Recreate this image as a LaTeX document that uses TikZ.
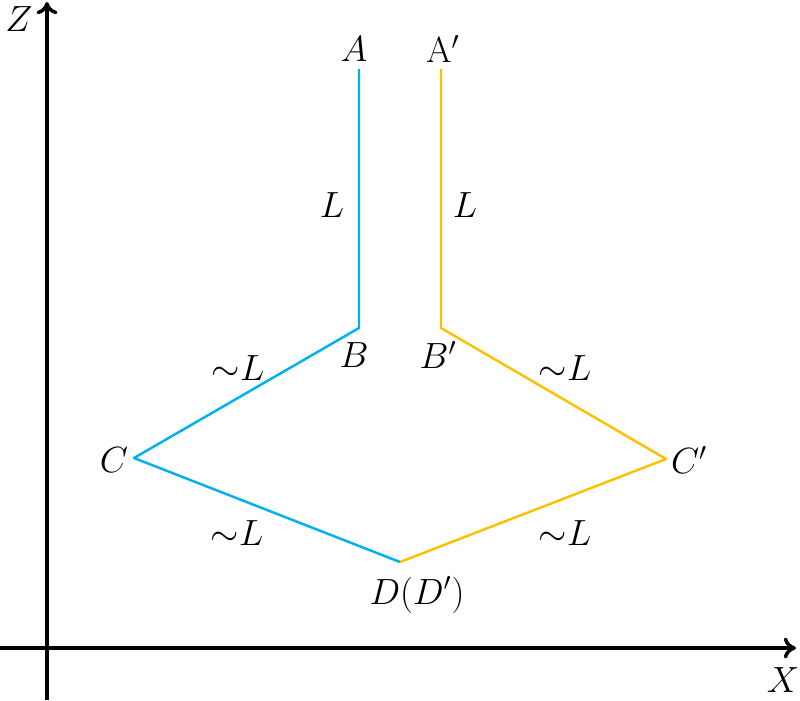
\documentclass[tikz,border=0pt]{standalone}
\usepackage{amsmath}
\usepackage{tikz}
\usepackage{xcolor}
\usetikzlibrary{arrows.meta, calc}

\definecolor{pathblue}{HTML}{00B0F0}
\definecolor{pathgold}{HTML}{FFC000}

\begin{document}
\begin{tikzpicture}[x=0.02cm, y=-0.02cm,
    axis/.style={line width=2.3pt, -{To[length=7pt, width=12pt, line width=2pt]}},
    bluepath/.style={line width=1.4pt, pathblue, line join=round},
    goldpath/.style={line width=1.4pt, pathgold, line join=round},
    lbl/.style={font=\fontsize{21}{23}\selectfont, inner sep=0pt}]
    \useasboundingbox (0,0) rectangle (800,700);

    % Axes
    \coordinate (zend) at (47,2);
    \coordinate (xend) at (796,648);
    \coordinate (zstart) at (47,700);
    \coordinate (xstart) at (0,648);
    \draw[axis] (zstart) -- (zend);
    \draw[axis] (xstart) -- (xend);
    \node[lbl] (zlabel) at (19,19) {$Z$};
    \node[lbl] (xlabel) at (783,680) {$X$};

    % Corner points
    \coordinate (A) at (359,69);
    \coordinate (B) at (359,328);
    \coordinate (C) at (134,458);
    \coordinate (D) at (400,562);
    \coordinate (Ap) at (441,69);
    \coordinate (Bp) at (441,328);
    \coordinate (Cp) at (666,459);

    % Two paths
    \draw[bluepath] (A) -- (B) -- (C) -- (D);
    \draw[goldpath] (Ap) -- (Bp) -- (Cp) -- (D);

    % Point labels
    \node[lbl] (la) at (354,49) {$A$};
    \node[lbl] (lap) at (443,49) {$\mathrm{A}'$};
    \node[lbl] (lb) at (354,355) {$B$};
    \node[lbl] (lbp) at (438,355) {$B'$};
    \node[lbl] (lc) at (114,460) {$C$};
    \node[lbl] (lcp) at (689,460) {$C'$};
    \node[lbl] (ld) at (417,595) {$D(D')$};

    % Length labels
    \node[lbl] (l1) at (332,205) {$L$};
    \node[lbl] (l2) at (465,205) {$L$};
    \node[lbl] (l3) at (238,368) {${\sim}L$};
    \node[lbl] (l4) at (565,368) {${\sim}L$};
    \node[lbl] (l5) at (237,533) {${\sim}L$};
    \node[lbl] (l6) at (565,533) {${\sim}L$};
\end{tikzpicture}
\end{document}
